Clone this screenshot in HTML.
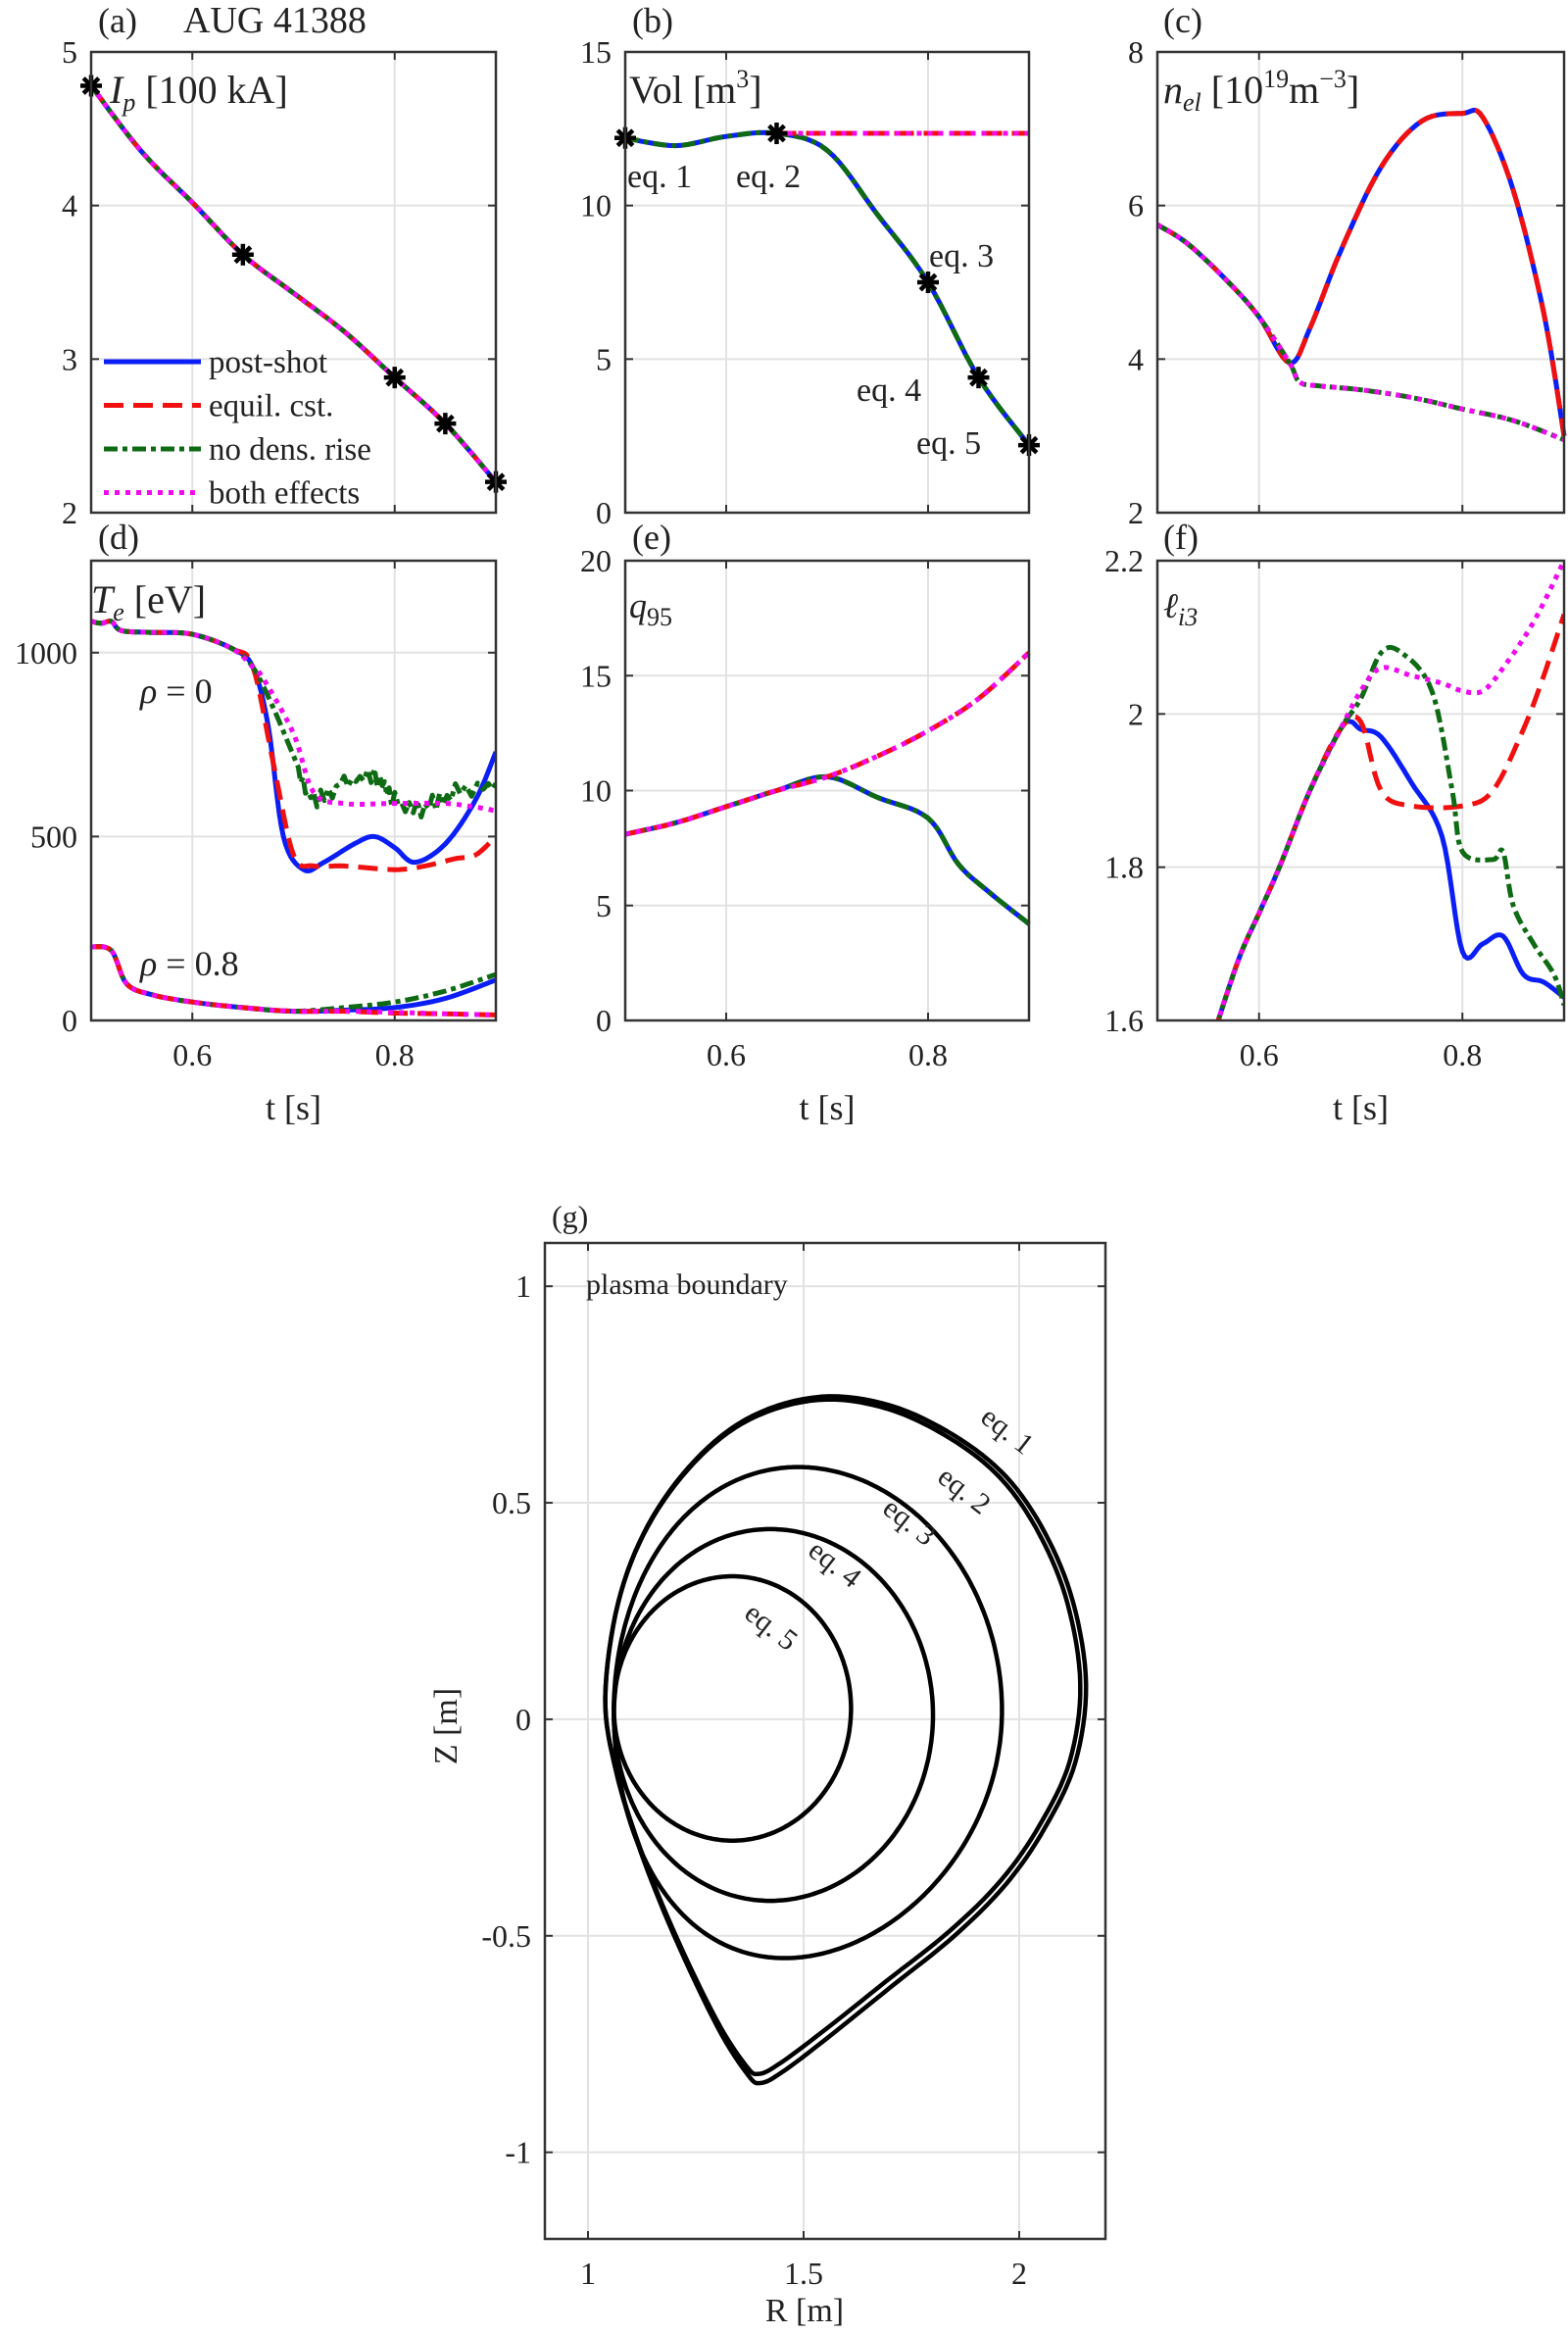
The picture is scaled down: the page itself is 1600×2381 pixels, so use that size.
<!DOCTYPE html>
<html><head><meta charset="utf-8"><style>
html,body{margin:0;padding:0;background:#fff}
svg{display:block}
text{font-family:"Liberation Serif","DejaVu Serif",serif;fill:#222}
</style></head><body>
<svg id="s" width="1600" height="2381" font-family="Liberation Serif, serif" xmlns="http://www.w3.org/2000/svg"></svg>
<script>
const S=document.getElementById('s');
let out='';
const P={a:[93,506,53,523],b:[638,1050,53,523],c:[1181,1596,53,523],d:[93,506,572,1041],e:[638,1050,572,1041],f:[1181,1596,572,1041]};
function mk(p,ymin,ymax){const[L,R,T,B]=P[p];return (t,y)=>[L+(t-0.5)/0.4*(R-L),B-(y-ymin)/(ymax-ymin)*(B-T)];}
function seg(p0,p1,p2,p3,n,r){for(let k=0;k<n;k++){const t=k/n,t2=t*t,t3=t2*t;
   r.push([0.5*(2*p1[0]+(-p0[0]+p2[0])*t+(2*p0[0]-5*p1[0]+4*p2[0]-p3[0])*t2+(-p0[0]+3*p1[0]-3*p2[0]+p3[0])*t3),
    0.5*(2*p1[1]+(-p0[1]+p2[1])*t+(2*p0[1]-5*p1[1]+4*p2[1]-p3[1])*t2+(-p0[1]+3*p1[1]-3*p2[1]+p3[1])*t3)]);}}
function cr(pts,n){
 if(pts.length<3)return pts;let r=[];
 for(let i=0;i<pts.length-1;i++)seg(pts[Math.max(0,i-1)],pts[i],pts[i+1],pts[Math.min(pts.length-1,i+2)],n,r);
 r.push(pts[pts.length-1]);return r;}
function crc(pts,n){const N=pts.length;let r=[];for(let i=0;i<N;i++)seg(pts[(i-1+N)%N],pts[i],pts[(i+1)%N],pts[(i+2)%N],n,r);r.push(r[0]);return r;}
const ST={b:'stroke="#0a1ef5" stroke-width="5"',r:'stroke="#f01010" stroke-width="5" stroke-dasharray="20 10"',g:'stroke="#0f6a14" stroke-width="5" stroke-dasharray="14 5 5 5"',m:'stroke="#f00af0" stroke-width="5" stroke-dasharray="5 6"'};
let seed=1;function rnd(){seed=(seed*16807)%2147483647;return seed/2147483647;}
function line(f,data,st,noise,from){let pts=cr(data.map(d=>f(d[0],d[1])),8);
 if(noise){pts=pts.map((p,i)=>[p[0],p[1]+(p[0]>from?(i%2?1:-1)*noise*rnd():0)]);}
 out+=`<polyline fill="none" stroke-linejoin="round" ${ST[st]} points="${pts.map(p=>p[0].toFixed(1)+','+p[1].toFixed(1)).join(' ')}"/>`;}
function axes(p,yt,ymin,ymax,xlab){const[L,R,T,B]=P[p];const f=mk(p,ymin,ymax);
 [0.6,0.8].forEach(t=>{const x=f(t,0)[0];out+=`<line x1="${x}" x2="${x}" y1="${T}" y2="${B}" stroke="#e2e2e2" stroke-width="2"/><line x1="${x}" x2="${x}" y1="${B}" y2="${B-8}" stroke="#333" stroke-width="2"/><line x1="${x}" x2="${x}" y1="${T}" y2="${T+8}" stroke="#333" stroke-width="2"/>`;
  if(xlab)out+=`<text x="${x}" y="${B+46}" font-size="32" text-anchor="middle">${t}</text>`;});
 yt.forEach(v=>{const y=f(0.5,v)[1];if(v!=ymin&&v!=ymax)out+=`<line x1="${L}" x2="${R}" y1="${y}" y2="${y}" stroke="#e2e2e2" stroke-width="2"/><line x1="${L}" x2="${L+8}" y1="${y}" y2="${y}" stroke="#333" stroke-width="2"/><line x1="${R}" x2="${R-8}" y1="${y}" y2="${y}" stroke="#333" stroke-width="2"/>`;
  out+=`<text x="${L-14}" y="${y+11}" font-size="32" text-anchor="end">${v}</text>`;});
 if(xlab)out+=`<text x="${(L+R)/2}" y="1142" font-size="36" text-anchor="middle">t [s]</text>`;
 return f;}
function box(p){const[L,R,T,B]=P[p];out+=`<rect x="${L}" y="${T}" width="${R-L}" height="${B-T}" fill="none" stroke="#333" stroke-width="2.5"/>`;}
function star(x,y){let s='';for(let i=0;i<4;i++){const a=i*Math.PI/4;s+=`<line x1="${x-11*Math.cos(a)}" y1="${y-11*Math.sin(a)}" x2="${x+11*Math.cos(a)}" y2="${y+11*Math.sin(a)}" stroke="#000" stroke-width="4.5"/>`;}out+=s;}
function clip(p){const[L,R,T,B]=P[p];out+=`<clipPath id="c${p}"><rect x="${L}" y="${T}" width="${R-L}" height="${B-T}"/></clipPath>`;}
['a','b','c','d','e','f'].forEach(clip);
function all4(f,d){['b','r','g','m'].forEach(s=>line(f,d,s));}
// (a)
let f=axes('a',[2,3,4,5],2,5);
let da=[[0.5,4.78],[0.55,4.35],[0.6,4.02],[0.65,3.68],[0.7,3.43],[0.75,3.18],[0.8,2.88],[0.85,2.58],[0.9,2.2]];
all4(f,da);[0,3,6,7,8].forEach(i=>{const p=f(da[i][0],da[i][1]);star(p[0],p[1]);});
box('a');
out+=`<text x="100" y="33" font-size="36">(a)</text><text x="187" y="33" font-size="38">AUG 41388</text>`;
out+=`<text x="112" y="105" font-size="40"><tspan font-style="italic">I</tspan><tspan font-style="italic" font-size="26" dy="8">p</tspan><tspan dy="-8"> [100 kA]</tspan></text>`;
[['b','post-shot'],['r','equil. cst.'],['g','no dens. rise'],['m','both effects']].forEach((l,i)=>{const y=369+i*44.5;out+=`<line x1="106" x2="205" y1="${y}" y2="${y}" ${ST[l[0]]} stroke-width="6"/><text x="213" y="${y+11}" font-size="33">${l[1]}</text>`;});
// (b)
f=axes('b',[0,5,10,15],0,15);
let db=[[0.5,12.2],[0.55,11.95],[0.6,12.25],[0.65,12.35],[0.7,11.8],[0.75,9.7],[0.8,7.5],[0.85,4.4],[0.9,2.2]];
line(f,db,'b');line(f,db,'g');
line(f,[[0.65,12.35],[0.9,12.35]],'r');line(f,[[0.65,12.35],[0.9,12.35]],'m');
[0,3,6,7,8].forEach(i=>{const p=f(db[i][0],db[i][1]);star(p[0],p[1]);});
box('b');
out+=`<text x="645" y="33" font-size="36">(b)</text><text x="642" y="105" font-size="40">Vol [m<tspan font-size="26" dy="-16">3</tspan><tspan dy="16">]</tspan></text>`;
[['eq. 1',640,191],['eq. 2',751,191],['eq. 3',948,272],['eq. 4',874,409],['eq. 5',935,463]].forEach(e=>out+=`<text x="${e[1]}" y="${e[2]}" font-size="34">${e[0]}</text>`);
// (c)
f=axes('c',[2,4,6,8],2,8);
let c0=[[0.5,5.75],[0.53,5.5],[0.57,5.0],[0.6,4.55],[0.63,3.95]];
let c1=c0.concat([[0.65,4.4],[0.68,5.4],[0.72,6.5],[0.76,7.1],[0.8,7.2],[0.82,7.15],[0.85,6.2],[0.88,4.6],[0.9,3.0]]);
let c2=c0.concat([[0.64,3.7],[0.66,3.65],[0.7,3.6],[0.75,3.5],[0.8,3.35],[0.85,3.2],[0.9,2.95]]);
line(f,c1,'b');line(f,c1,'r');line(f,c2,'g');line(f,c2,'m');
box('c');
out+=`<text x="1187" y="33" font-size="36">(c)</text><text x="1187" y="105" font-size="40"><tspan font-style="italic">n</tspan><tspan font-style="italic" font-size="26" dy="8">el</tspan><tspan dy="-8"> [10</tspan><tspan font-size="26" dy="-16">19</tspan><tspan dy="16">m</tspan><tspan font-size="26" dy="-16">−3</tspan><tspan dy="16">]</tspan></text>`;
// (d)
f=axes('d',[0,500,1000],0,1250,1);
out+=`<g clip-path="url(#cd)">`;
let d0=[[0.5,1085],[0.51,1080],[0.52,1085],[0.53,1060],[0.56,1055],[0.6,1050],[0.64,1010],[0.66,960]];
line(f,d0.concat([[0.675,800],[0.69,500],[0.71,410],[0.73,430],[0.76,480],[0.78,500],[0.8,470],[0.82,430],[0.85,480],[0.88,600],[0.9,730]]),'b');
line(f,d0.concat([[0.68,700],[0.7,450],[0.72,420],[0.75,420],[0.8,410],[0.83,420],[0.86,440],[0.88,450],[0.9,500]]),'r');
line(f,d0.concat([[0.68,850],[0.7,720],[0.72,600],[0.75,650],[0.78,660],[0.8,600],[0.83,580],[0.86,620],[0.9,640]]),'g',10,f(0.7,0)[0]);
line(f,d0.concat([[0.67,930],[0.7,780],[0.72,620],[0.75,590],[0.8,590],[0.85,590],[0.88,580],[0.9,570]]),'m');
let d8=[[0.5,200],[0.52,190],[0.535,100],[0.56,70],[0.6,50],[0.65,35],[0.7,25]];
line(f,d8.concat([[0.75,28],[0.8,35],[0.85,60],[0.9,110]]),'b');
line(f,d8.concat([[0.75,35],[0.8,50],[0.85,80],[0.9,125]]),'g');
line(f,d8.concat([[0.75,25],[0.8,20],[0.85,18],[0.9,15]]),'r');
line(f,d8.concat([[0.75,25],[0.8,22],[0.85,18],[0.9,15]]),'m');
out+=`</g>`;box('d');
out+=`<text x="100" y="560" font-size="36">(d)</text><text x="93" y="625" font-size="40"><tspan font-style="italic">T</tspan><tspan font-style="italic" font-size="26" dy="8">e</tspan><tspan dy="-8"> [eV]</tspan></text>`;
out+=`<text x="143" y="717" font-size="36"><tspan font-style="italic">ρ</tspan> = 0</text><text x="143" y="995" font-size="36"><tspan font-style="italic">ρ</tspan> = 0.8</text>`;
// (e)
f=axes('e',[0,5,10,15,20],0,20,1);
let e0=[[0.5,8.1],[0.55,8.6],[0.6,9.3],[0.65,10],[0.7,10.6]];
let e1=e0.concat([[0.75,11.5],[0.8,12.6],[0.85,14],[0.9,16]]);
let e2=e0.concat([[0.75,9.7],[0.8,8.8],[0.83,6.8],[0.86,5.6],[0.9,4.2]]);
line(f,e2,'b');line(f,e2,'g');line(f,e1,'r');line(f,e1,'m');
box('e');
out+=`<text x="645" y="560" font-size="36">(e)</text><text x="642" y="630" font-size="36" font-style="italic">q<tspan font-style="normal" font-size="26" dy="8">95</tspan></text>`;
// (f)
f=axes('f',[1.6,1.8,2,2.2],1.6,2.2,1);
out+=`<g clip-path="url(#cf)">`;
let f0=[[0.555,1.58],[0.58,1.68],[0.6,1.74],[0.62,1.8],[0.65,1.9],[0.68,1.98]];
line(f,f0.concat([[0.69,1.99],[0.7,1.98],[0.72,1.97],[0.75,1.91],[0.78,1.84],[0.8,1.69],[0.82,1.7],[0.84,1.71],[0.86,1.66],[0.88,1.65],[0.9,1.63]]),'b');
line(f,f0.concat([[0.7,1.99],[0.72,1.9],[0.75,1.88],[0.8,1.88],[0.83,1.9],[0.86,1.98],[0.88,2.05],[0.9,2.13]]),'r');
line(f,f0.concat([[0.7,2.02],[0.72,2.08],[0.74,2.08],[0.77,2.03],[0.79,1.9],[0.8,1.82],[0.83,1.81],[0.84,1.82],[0.85,1.75],[0.87,1.7],[0.89,1.66],[0.9,1.62]]),'g');
line(f,f0.concat([[0.7,2.03],[0.72,2.06],[0.75,2.05],[0.78,2.04],[0.8,2.03],[0.82,2.03],[0.84,2.06],[0.87,2.12],[0.9,2.2]]),'m');
out+=`</g>`;box('f');
out+=`<text x="1187" y="560" font-size="36">(f)</text><text x="1187" y="630" font-size="36" font-style="italic">ℓ<tspan font-size="26" dy="8">i3</tspan></text>`;
// (g)
const GL=556,GR=1128,GT=1268,GB=2284;
const gx=r=>GL+(r-0.9)/1.3*(GR-GL), gy=z=>GT+(1.1-z)/2.3*(GB-GT);
[1,1.5,2].forEach(r=>{const x=gx(r);out+=`<line x1="${x}" x2="${x}" y1="${GT}" y2="${GB}" stroke="#e2e2e2" stroke-width="2"/><line x1="${x}" x2="${x}" y1="${GB}" y2="${GB-8}" stroke="#333" stroke-width="2"/><line x1="${x}" x2="${x}" y1="${GT}" y2="${GT+8}" stroke="#333" stroke-width="2"/><text x="${x}" y="${GB+46}" font-size="32" text-anchor="middle">${r}</text>`;});
[1,0.5,0,-0.5,-1].forEach(z=>{const y=gy(z);out+=`<line x1="${GL}" x2="${GR}" y1="${y}" y2="${y}" stroke="#e2e2e2" stroke-width="2"/><line x1="${GL}" x2="${GL+8}" y1="${y}" y2="${y}" stroke="#333" stroke-width="2"/><line x1="${GR}" x2="${GR-8}" y1="${y}" y2="${y}" stroke="#333" stroke-width="2"/><text x="${GL-14}" y="${y+11}" font-size="32" text-anchor="end">${z}</text>`;});
function poly(pts){out+=`<polyline fill="none" stroke="#000" stroke-width="4.5" stroke-linejoin="round" points="${pts.map(p=>p[0].toFixed(1)+','+p[1].toFixed(1)).join(' ')}"/>`;}
function dshape(R0,a,Z0,ku,kl,du,dl){let pts=[];for(let i=0;i<=360;i++){const th=i*Math.PI/180;const s=Math.sin(th);const d=s>0?du:dl;const k=s>0?ku:kl;
 let r=R0+a*Math.cos(th+d*s);let z=Z0+k*a*s;pts.push([gx(r),gy(z)]);}poly(pts);}
const eq1=[[1.04,0.05],[1.07,0.27],[1.14,0.45],[1.25,0.6],[1.38,0.7],[1.54,0.745],[1.70,0.725],[1.85,0.655],[1.97,0.56],[2.06,0.43],[2.125,0.27],[2.155,0.08],[2.13,-0.1],[2.06,-0.25],[1.97,-0.38],[1.85,-0.5],[1.7,-0.62],[1.55,-0.74],[1.45,-0.815],[1.4,-0.84],[1.37,-0.82],[1.3,-0.71],[1.2,-0.5],[1.12,-0.3],[1.065,-0.12]];
poly(crc(eq1.map(p=>[gx(p[0]),gy(p[1])]),8));
poly(crc(eq1.map(p=>[gx(1.045+(p[0]-1.045)*0.988),gy(p[1]*(p[1]<0?0.975:0.99))]),8));
dshape(1.51,0.45,0.02,1.25,1.27,0.05,0.12);
dshape(1.43,0.37,0.01,1.16,1.16,0.02,0.02);
dshape(1.335,0.275,0.025,1.11,1.11,0.0,0.0);
out+=`<rect x="${GL}" y="${GT}" width="${GR-GL}" height="${GB-GT}" fill="none" stroke="#333" stroke-width="2.5"/>`;
out+=`<text x="563" y="1252" font-size="32">(g)</text><text x="598" y="1320" font-size="30">plasma boundary</text>`;
[['eq. 1',1022,1467],['eq. 2',978,1528],['eq. 3',922,1560],['eq. 4',846,1603],['eq. 5',781,1667]].forEach(e=>out+=`<text x="${e[1]}" y="${e[2]}" font-size="30" text-anchor="middle" transform="rotate(38 ${e[1]} ${e[2]})">${e[0]}</text>`);
out+=`<text x="821" y="2368" font-size="34" text-anchor="middle">R [m]</text><text x="0" y="0" font-size="34" text-anchor="middle" transform="translate(466 1761) rotate(-90)">Z [m]</text>`;
S.innerHTML=out;
</script>
</body></html>
